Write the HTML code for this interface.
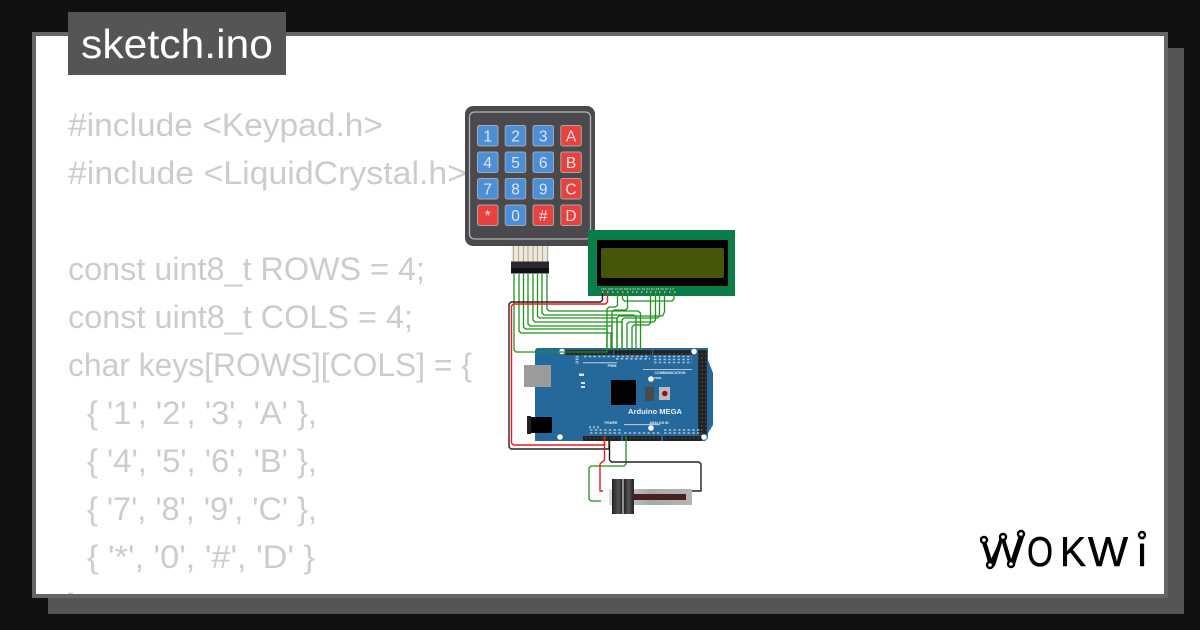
<!DOCTYPE html>
<html><head><meta charset="utf-8"><style>html,body{margin:0;padding:0;background:#111;width:1200px;height:630px;overflow:hidden}svg{display:block}</style></head><body>
<svg xmlns="http://www.w3.org/2000/svg" width="1200" height="630" viewBox="0 0 1200 630">
<defs>
<linearGradient id="pot" x1="0" y1="0" x2="1" y2="0"><stop offset="0" stop-color="#ddd"/><stop offset=".5" stop-color="#a8a8a8"/><stop offset="1" stop-color="#b5b5b5"/></linearGradient>
<linearGradient id="knob" x1="0" y1="0" x2="1" y2="0"><stop offset="0" stop-color="#222"/><stop offset=".3" stop-color="#555"/><stop offset=".46" stop-color="#222"/><stop offset=".48" stop-color="#ccc"/><stop offset=".52" stop-color="#ccc"/><stop offset=".54" stop-color="#222"/><stop offset=".75" stop-color="#555"/><stop offset="1" stop-color="#222"/></linearGradient>
<pattern id="hdr" width="4" height="4" patternUnits="userSpaceOnUse"><rect width="4" height="4" fill="#222"/><rect x="1.2" y="1.2" width="1.6" height="1.6" fill="#444"/></pattern>
<clipPath id="page"><rect x="36" y="36" width="1128" height="558"/></clipPath>
</defs>
<rect width="1200" height="630" fill="#111"/>
<rect x="48" y="48" width="1136" height="566" fill="#555"/>
<rect x="32" y="32" width="1136" height="566" fill="#666"/>
<rect x="36" y="36" width="1128" height="558" fill="#fff"/>
<g clip-path="url(#page)" fill="#ccc" font-family="'Liberation Sans',sans-serif" font-size="32">
<text x="68" y="136" textLength="315" lengthAdjust="spacingAndGlyphs">#include &lt;Keypad.h&gt;</text>
<text x="68" y="184" textLength="399" lengthAdjust="spacingAndGlyphs">#include &lt;LiquidCrystal.h&gt;</text>
<text x="68" y="280" textLength="357" lengthAdjust="spacingAndGlyphs">const uint8_t ROWS = 4;</text>
<text x="68" y="328" textLength="345" lengthAdjust="spacingAndGlyphs">const uint8_t COLS = 4;</text>
<text x="68" y="376" textLength="404" lengthAdjust="spacingAndGlyphs">char keys[ROWS][COLS] = {</text>
<text x="87" y="424" textLength="230" lengthAdjust="spacingAndGlyphs">{ '1', '2', '3', 'A' },</text>
<text x="87" y="472" textLength="230" lengthAdjust="spacingAndGlyphs">{ '4', '5', '6', 'B' },</text>
<text x="87" y="520" textLength="230" lengthAdjust="spacingAndGlyphs">{ '7', '8', '9', 'C' },</text>
<text x="87" y="568" textLength="228" lengthAdjust="spacingAndGlyphs">{ '*', '0', '#', 'D' }</text>
<text x="68" y="616">};</text>
</g>
<rect x="68" y="12" width="218" height="63" fill="#555"/>
<text x="81" y="58" fill="#fff" font-family="'Liberation Sans',sans-serif" font-size="41" textLength="192" lengthAdjust="spacingAndGlyphs">sketch.ino</text>

<!-- keypad -->
<rect x="465" y="106" width="130" height="140" rx="8" fill="#4a4a4e"/>
<rect x="469.5" y="112" width="121" height="127" rx="5" fill="none" stroke="#b5b5b5" stroke-width="1.3"/>
<g stroke="#a8a8a8" stroke-width="1">
<g fill="#4a8fd8">
<rect x="477.5" y="125.5" width="20.5" height="20.5" rx="2"/><rect x="505.2" y="125.5" width="20.5" height="20.5" rx="2"/><rect x="533" y="125.5" width="20.5" height="20.5" rx="2"/>
<rect x="477.5" y="152" width="20.5" height="20.5" rx="2"/><rect x="505.2" y="152" width="20.5" height="20.5" rx="2"/><rect x="533" y="152" width="20.5" height="20.5" rx="2"/>
<rect x="477.5" y="178.5" width="20.5" height="20.5" rx="2"/><rect x="505.2" y="178.5" width="20.5" height="20.5" rx="2"/><rect x="533" y="178.5" width="20.5" height="20.5" rx="2"/>
<rect x="505.2" y="205" width="20.5" height="20.5" rx="2"/>
</g>
<g fill="#e8413e">
<rect x="560.8" y="125.5" width="20.5" height="20.5" rx="2"/><rect x="560.8" y="152" width="20.5" height="20.5" rx="2"/><rect x="560.8" y="178.5" width="20.5" height="20.5" rx="2"/><rect x="560.8" y="205" width="20.5" height="20.5" rx="2"/>
<rect x="477.5" y="205" width="20.5" height="20.5" rx="2"/><rect x="533" y="205" width="20.5" height="20.5" rx="2"/>
</g></g>
<g fill="#e4e4e4" font-family="'Liberation Sans',sans-serif" font-size="15.5" text-anchor="middle">
<text x="487.7" y="141.5">1</text><text x="515.5" y="141.5">2</text><text x="543.2" y="141.5">3</text><text x="571" y="141.5">A</text>
<text x="487.7" y="168">4</text><text x="515.5" y="168">5</text><text x="543.2" y="168">6</text><text x="571" y="168">B</text>
<text x="487.7" y="194.5">7</text><text x="515.5" y="194.5">8</text><text x="543.2" y="194.5">9</text><text x="571" y="194.5">C</text>
<text x="487.7" y="221">*</text><text x="515.5" y="221">0</text><text x="543.2" y="221">#</text><text x="571" y="221">D</text>
</g>
<!-- ribbon -->
<rect x="511.5" y="246" width="37" height="16" fill="#efe9da"/>
<g stroke="#b5b09e" stroke-width="1.2"><path d="M513.5 246V262M518.5 246V262M523.5 246V262M528 246V262M533 246V262M537.5 246V262M542.5 246V262M547.5 246V262"/></g>
<rect x="511" y="261.5" width="38" height="12" fill="#2a2a2a"/>
<rect x="511" y="268" width="38" height="5.5" fill="#111"/>

<!-- LCD -->
<rect x="588" y="230" width="147" height="66" fill="#0a7d48"/>
<rect x="597" y="240" width="131" height="46" fill="#000"/>
<rect x="601" y="248" width="123" height="30" rx="2" fill="#455608"/>
<g stroke="#4f6010" stroke-width=".6"><path d="M611 249V277M619 249V277M627 249V277M635 249V277M643 249V277M651 249V277M659 249V277M667 249V277M675 249V277M683 249V277M691 249V277M699 249V277M707 249V277M715 249V277"/></g>
<g fill="#e6efe6" font-family="'Liberation Sans',sans-serif" font-size="2.4"><text x="601" y="290" textLength="73">VSS VDD V0 RS RW E D0 D1 D2 D3 D4 D5 D6 D7 A K</text></g>
<g fill="#b9a66a"><rect x="602" y="291" width="1.5" height="2"/><rect x="607" y="291" width="1.5" height="2"/><rect x="612" y="291" width="1.5" height="2"/><rect x="617" y="291" width="1.5" height="2"/><rect x="622" y="291" width="1.5" height="2"/><rect x="627" y="291" width="1.5" height="2"/><rect x="632" y="291" width="1.5" height="2"/><rect x="636" y="291" width="1.5" height="2"/><rect x="641" y="291" width="1.5" height="2"/><rect x="646" y="291" width="1.5" height="2"/><rect x="650" y="291" width="1.5" height="2"/><rect x="655" y="291" width="1.5" height="2"/><rect x="659" y="291" width="1.5" height="2"/><rect x="664" y="291" width="1.5" height="2"/><rect x="669" y="291" width="1.5" height="2"/><rect x="674" y="291" width="1.5" height="2"/></g>

<!-- Arduino -->
<path d="M537 348H708V360L713 373V425L708 433V438L705 441H535V350Z" fill="#25689c"/>
<g fill="url(#hdr)">
<rect x="565" y="350" width="48" height="5"/><rect x="614" y="350" width="38" height="5"/><rect x="653" y="350" width="39" height="5"/>
<rect x="698" y="350" width="9" height="85"/>
<rect x="583" y="436" width="38" height="5"/><rect x="623" y="436" width="38" height="5"/><rect x="663" y="436" width="39" height="5"/>
</g>
<g fill="#fff"><circle cx="562" cy="351.5" r="2.8"/><circle cx="694" cy="351.5" r="2.8"/><circle cx="651" cy="379" r="2.8"/><circle cx="560" cy="437" r="2.8"/><circle cx="651" cy="428" r="2.8"/><circle cx="704" cy="437" r="2.8"/></g>
<rect x="524" y="365" width="27" height="22" fill="#9b9b9b"/>
<rect x="530" y="417" width="22" height="16" rx="1" fill="#000"/><rect x="527" y="416" width="4" height="18" fill="#222"/>
<rect x="611" y="380" width="25" height="25" fill="#000"/>
<g fill="#666"><rect x="645" y="387" width="9" height="14" fill="#4a4a4a"/></g>
<rect x="659" y="387" width="11" height="13" fill="#bcbcbc"/><circle cx="664.8" cy="393.5" r="2.8" fill="#a01010"/>
<g fill="#d8e4ee"><rect x="579" y="373.5" width="5" height="2.5"/><rect x="581" y="382" width="4" height="2"/><rect x="581" y="386" width="4" height="2"/></g>
<g fill="none" stroke="#cfdde9" stroke-width="1.6" stroke-dasharray="2.5 2.2" opacity=".75">
<path d="M584 356.5H648M616 358.8H650M654 356.5H692M654 359.5H692M654 362.5H692"/>
<path d="M590 433H622M590 430H622M624 433H660M664 433H702M664 430H702"/>
<path d="M577 356V364" stroke-width="3" stroke-dasharray="1.5 1"/>
<path d="M590 426V430M594 426V430M598 426V430"/>
</g>
<g fill="none" stroke="#d8e4ee" stroke-width=".8"><path d="M583 362.8H617M643 369.5H692M624 424.7H660"/></g>
<g fill="#e8f0f6" font-family="'Liberation Sans',sans-serif" font-weight="bold" text-anchor="middle">
<text x="655" y="414" font-size="7.6">Arduino MEGA</text>
<text x="612" y="367" font-size="3.6">PWM</text>
<text x="670" y="374" font-size="3.6">COMMUNICATION</text>
<text x="611" y="424" font-size="3.4">POWER</text>
<text x="659" y="424" font-size="3.4">ANALOG IN</text>
<text x="658" y="379" font-size="2.6">PWML</text>
</g>

<!-- pot -->
<rect x="609" y="489" width="83" height="16" fill="url(#pot)"/>
<rect x="634" y="494" width="52" height="6" fill="#4a1f1f"/>
<rect x="612" y="479" width="22" height="35" fill="url(#knob)"/>

<!-- wires -->
<g fill="none" stroke-linejoin="round">
<g stroke="#1f931f" stroke-width="1.3">
<polyline points="514,274 514,350 516,352 607,352 607,350"/>
<polyline points="519,274 519,331 521,333 611,333 611,350"/>
<polyline points="523.5,274 523.5,327 525.5,329 607,329 607,350"/>
<polyline points="528,274 528,324 530,326 612,326 612,350"/>
<polyline points="533,274 533,320 535,322 622,322 622,350"/>
<polyline points="537.5,274 537.5,316 539.5,318 617,318 617,350"/>
<polyline points="542,274 542,313 544,315 634,315 636,317 636,350"/>
<polyline points="547,274 547,309 549,311 638,311 640.5,313 640.5,350"/>
<polyline points="617.5,293 617.5,305 615.5,307 609,307 607,309 607,350"/>
<polyline points="627.5,293 627.5,308 625.5,310 614,310 612,312 612,350"/>
<polyline points="622.5,293 622.5,299 624.5,301 672,301 674,299 674,293"/>
<polyline points="650.5,293 650.5,323 648.5,325 634,325 632,327 632,350"/>
<polyline points="655.5,293 655.5,320 653.5,322 629,322 627,324 627,350"/>
<polyline points="659.5,293 659.5,316 657.5,318 624,318 622,320 622,350"/>
<polyline points="664.5,293 664.5,312 662.5,316 619,316 617,318 617,350"/>
<polyline points="626,436 626,464 624,466 591,466 589,468 589,499 591,501 601,501"/>
</g>
<polyline stroke="#222" stroke-width="1.4" points="602.5,293 602.5,300 600.5,302 511,302 509,304 509,447 511,449 609,449 609,436"/>
<polyline stroke="#f01818" stroke-width="1.4" points="607.5,293 607.5,302 605.5,304 513.5,304 511.5,306 511.5,443 513.5,445 604.5,445 604.5,436"/>
<polyline stroke="#f01818" stroke-width="1.4" points="604.5,436 604.5,460 602.5,462 602,462 600,464 600,491 603,491"/>
<polyline stroke="#222" stroke-width="1.4" points="609.5,436 609.5,460 611.5,462 699,462 701,464 701,491 692,491"/>
</g>

<!-- logo -->
<g font-family="'Liberation Sans',sans-serif" font-size="42" fill="#000" stroke="#000" stroke-width=".5" stroke-linejoin="round">
<text x="980" y="566" textLength="44" lengthAdjust="spacingAndGlyphs" stroke-width=".2">W</text>
<text x="1027" y="566" textLength="26" lengthAdjust="spacingAndGlyphs">O</text>
<text x="1060" y="566" textLength="26" lengthAdjust="spacingAndGlyphs">K</text>
<text x="1088" y="566" textLength="40" lengthAdjust="spacingAndGlyphs">W</text>
<text x="1142" y="566" text-anchor="middle">i</text>
</g>
<polyline fill="none" stroke="#000" stroke-width="3" stroke-linejoin="round" points="984,540 990,565 1003,537 1011,564 1021,534"/>
<g fill="#fff" stroke="#000" stroke-width="2.4"><circle cx="984" cy="540" r="3"/><circle cx="1003" cy="537" r="3"/><circle cx="1021" cy="534" r="3"/><circle cx="990" cy="565" r="3"/><circle cx="1011" cy="564" r="3"/><circle cx="1142" cy="535" r="3"/></g>
</svg>
</body></html>
